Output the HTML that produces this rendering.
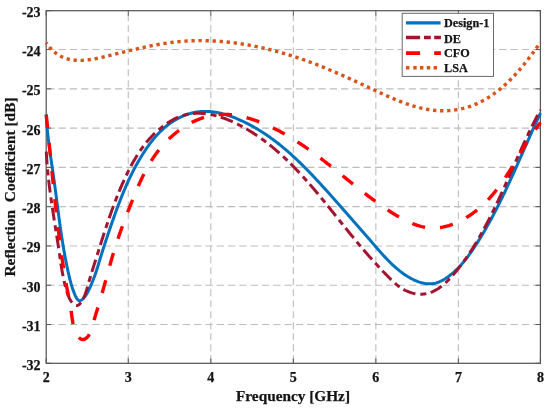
<!DOCTYPE html>
<html><head><meta charset="utf-8"><style>
html,body{margin:0;padding:0;background:#fff;}
svg{display:block;}
text{font-family:"Liberation Serif",serif;font-weight:bold;fill:#141414;stroke:#141414;stroke-width:0.25px;}
</style></head><body>
<svg width="550" height="408" viewBox="0 0 550 408">
<rect width="550" height="408" fill="#fff"/>
<g stroke="#bdbdbd" stroke-width="1.1" fill="none">
<line x1="128.27" y1="363.3" x2="128.27" y2="10.7" stroke-dasharray="7 4" stroke-dashoffset="-1.1"/>
<line x1="210.80" y1="363.3" x2="210.80" y2="10.7" stroke-dasharray="7 4" stroke-dashoffset="-1.1"/>
<line x1="293.33" y1="363.3" x2="293.33" y2="10.7" stroke-dasharray="7 4" stroke-dashoffset="-1.1"/>
<line x1="375.86" y1="363.3" x2="375.86" y2="10.7" stroke-dasharray="7 4" stroke-dashoffset="-1.1"/>
<line x1="458.39" y1="363.3" x2="458.39" y2="10.7" stroke-dasharray="7 4" stroke-dashoffset="-1.1"/>
<line x1="540.4" y1="324.51" x2="46.2" y2="324.51" stroke-dasharray="7.3 4"/>
<line x1="540.4" y1="285.23" x2="46.2" y2="285.23" stroke-dasharray="7.3 4"/>
<line x1="540.4" y1="245.95" x2="46.2" y2="245.95" stroke-dasharray="7.3 4"/>
<line x1="540.4" y1="206.67" x2="46.2" y2="206.67" stroke-dasharray="7.3 4"/>
<line x1="540.4" y1="167.39" x2="46.2" y2="167.39" stroke-dasharray="7.3 4"/>
<line x1="540.4" y1="128.11" x2="46.2" y2="128.11" stroke-dasharray="7.3 4"/>
<line x1="540.4" y1="88.83" x2="46.2" y2="88.83" stroke-dasharray="7.3 4"/>
<line x1="540.4" y1="49.55" x2="46.2" y2="49.55" stroke-dasharray="7.3 4"/>
</g>
<rect x="46.2" y="10.7" width="494.20" height="352.60" fill="none" stroke="#585858" stroke-width="1.25"/>
<path d="M46.20,363.3v-4.9M46.20,10.7v4.9M128.27,363.3v-4.9M128.27,10.7v4.9M210.80,363.3v-4.9M210.80,10.7v4.9M293.33,363.3v-4.9M293.33,10.7v4.9M375.86,363.3v-4.9M375.86,10.7v4.9M458.39,363.3v-4.9M458.39,10.7v4.9M540.40,363.3v-4.9M540.40,10.7v4.9M46.2,363.30h4.9M540.4,363.30h-4.9M46.2,324.51h4.9M540.4,324.51h-4.9M46.2,285.23h4.9M540.4,285.23h-4.9M46.2,245.95h4.9M540.4,245.95h-4.9M46.2,206.67h4.9M540.4,206.67h-4.9M46.2,167.39h4.9M540.4,167.39h-4.9M46.2,128.11h4.9M540.4,128.11h-4.9M46.2,88.83h4.9M540.4,88.83h-4.9M46.2,49.55h4.9M540.4,49.55h-4.9M46.2,10.70h4.9M540.4,10.70h-4.9" stroke="#555" stroke-width="1" fill="none"/>
<g fill="none" stroke-width="3">
<path d="M46.19,114.31 L46.25,115.44 L46.31,116.58 L46.37,117.73 L46.44,118.87 L46.52,120.02 L46.59,121.16 L46.68,122.31 L46.77,123.46 L46.86,124.62 L46.95,125.77 L47.05,126.92 L47.16,128.08 L47.27,129.24 L47.38,130.40 L47.50,131.56 L47.62,132.72 L47.74,133.88 L47.86,135.04 L47.99,136.20 L48.13,137.37 L48.26,138.53 L48.40,139.70 L48.54,140.87 L48.68,142.03 L48.83,143.20 L48.98,144.37 L49.13,145.54 L49.28,146.71 L49.43,147.88 L49.59,149.05 L49.75,150.22 L49.91,151.39 L50.07,152.56 L50.23,153.73 L50.40,154.90 L50.56,156.07 L50.73,157.24 L50.89,158.41 L51.06,159.58 L51.23,160.74 L51.40,161.91 L51.57,163.08 L51.74,164.25 L51.91,165.41 L52.08,166.58 L52.25,167.75 L52.42,168.91 L52.59,170.07 L52.76,171.24 L52.93,172.40 L53.09,173.56 L53.26,174.72 L53.43,175.88 L53.59,177.04 L53.76,178.19 L53.92,179.35 L54.08,180.50 L54.24,181.66 L54.40,182.81 L54.56,183.96 L54.72,185.10 L54.87,186.25 L55.03,187.40 L55.18,188.54 L55.33,189.69 L55.48,190.83 L55.64,191.97 L55.79,193.11 L55.93,194.26 L56.08,195.39 L56.23,196.53 L56.38,197.67 L56.53,198.81 L56.67,199.95 L56.82,201.08 L56.97,202.22 L57.11,203.36 L57.26,204.49 L57.41,205.63 L57.55,206.76 L57.70,207.90 L57.85,209.03 L58.00,210.17 L58.14,211.30 L58.29,212.44 L58.44,213.57 L58.59,214.71 L58.74,215.84 L58.89,216.98 L59.04,218.11 L59.19,219.25 L59.35,220.38 L59.50,221.52 L59.66,222.66 L59.81,223.80 L59.97,224.94 L60.13,226.07 L60.29,227.21 L60.45,228.35 L60.62,229.50 L60.78,230.64 L60.95,231.78 L61.12,232.93 L61.29,234.07 L61.46,235.22 L61.63,236.37 L61.81,237.51 L61.99,238.66 L62.17,239.82 L62.35,240.97 L62.53,242.12 L62.72,243.28 L62.91,244.44 L63.10,245.59 L63.29,246.75 L63.49,247.92 L63.69,249.08 L63.89,250.25 L64.10,251.41 L64.31,252.58 L64.52,253.75 L64.73,254.93 L64.95,256.10 L65.17,257.28 L65.39,258.46 L65.62,259.64 L65.85,260.82 L66.08,262.01 L66.32,263.20 L66.56,264.39 L66.80,265.58 L67.05,266.78 L67.30,267.98 L67.56,269.18 L67.82,270.38 L68.08,271.59 L68.35,272.80 L68.62,274.01 L68.90,275.22 L69.18,276.43 L69.47,277.64 L69.77,278.84 L70.08,280.05 L70.39,281.24 L70.71,282.44 L71.05,283.63 L71.39,284.81 L71.74,285.98 L72.11,287.15 L72.48,288.31 L72.87,289.45 L73.27,290.59 L73.68,291.71 L74.11,292.82 L74.55,293.92 L75.01,295.00 L75.48,296.06 L75.98,297.08 L76.49,298.03 L77.03,298.88 L77.59,299.60 L78.19,300.17 L78.81,300.54 L79.48,300.70 L80.17,300.66 L80.89,300.43 L81.63,300.02 L82.39,299.45 L83.16,298.73 L83.93,297.88 L84.70,296.92 L85.46,295.85 L86.21,294.70 L86.94,293.47 L87.65,292.19 L88.35,290.86 L89.02,289.50 L89.67,288.12 L90.30,286.75 L90.90,285.38 L91.47,284.05 L92.02,282.74 L92.54,281.47 L93.04,280.22 L93.51,279.01 L93.96,277.82 L94.40,276.66 L94.81,275.52 L95.21,274.40 L95.59,273.29 L95.96,272.21 L96.32,271.14 L96.66,270.09 L97.00,269.04 L97.32,268.01 L97.64,266.99 L97.95,265.97 L98.26,264.95 L98.56,263.94 L98.87,262.93 L99.17,261.92 L99.47,260.90 L99.78,259.88 L100.09,258.85 L100.41,257.82 L100.72,256.78 L101.05,255.74 L101.37,254.68 L101.70,253.63 L102.04,252.56 L102.37,251.50 L102.71,250.42 L103.06,249.35 L103.40,248.26 L103.75,247.18 L104.11,246.09 L104.46,244.99 L104.82,243.89 L105.18,242.79 L105.54,241.69 L105.91,240.58 L106.28,239.47 L106.64,238.36 L107.02,237.25 L107.39,236.13 L107.77,235.02 L108.14,233.90 L108.52,232.78 L108.90,231.66 L109.28,230.54 L109.67,229.42 L110.05,228.30 L110.43,227.18 L110.82,226.06 L111.21,224.94 L111.59,223.82 L111.98,222.70 L112.37,221.58 L112.76,220.47 L113.15,219.36 L113.54,218.24 L113.94,217.13 L114.33,216.02 L114.73,214.91 L115.12,213.80 L115.52,212.69 L115.92,211.59 L116.33,210.48 L116.73,209.38 L117.14,208.28 L117.54,207.18 L117.95,206.08 L118.37,204.98 L118.78,203.89 L119.20,202.79 L119.62,201.70 L120.04,200.61 L120.46,199.52 L120.89,198.43 L121.32,197.35 L121.75,196.26 L122.19,195.18 L122.63,194.10 L123.07,193.02 L123.51,191.94 L123.96,190.87 L124.41,189.80 L124.87,188.73 L125.32,187.66 L125.79,186.59 L126.25,185.53 L126.72,184.47 L127.19,183.41 L127.67,182.35 L128.15,181.29 L128.64,180.24 L129.13,179.19 L129.62,178.14 L130.12,177.10 L130.62,176.05 L131.13,175.01 L131.64,173.97 L132.16,172.94 L132.68,171.90 L133.20,170.87 L133.73,169.84 L134.27,168.82 L134.81,167.79 L135.36,166.77 L135.91,165.76 L136.47,164.74 L137.03,163.73 L137.60,162.72 L138.17,161.72 L138.75,160.71 L139.34,159.71 L139.93,158.72 L140.52,157.72 L141.13,156.73 L141.74,155.74 L142.35,154.76 L142.97,153.78 L143.60,152.80 L144.24,151.82 L144.88,150.85 L145.53,149.88 L146.18,148.92 L146.84,147.96 L147.51,147.00 L148.19,146.05 L148.87,145.10 L149.57,144.16 L150.26,143.22 L150.97,142.29 L151.69,141.36 L152.41,140.45 L153.15,139.54 L153.89,138.63 L154.64,137.74 L155.40,136.85 L156.17,135.97 L156.95,135.10 L157.74,134.24 L158.55,133.39 L159.36,132.55 L160.18,131.72 L161.01,130.90 L161.85,130.09 L162.71,129.30 L163.57,128.51 L164.45,127.74 L165.34,126.98 L166.24,126.24 L167.16,125.50 L168.08,124.78 L169.02,124.08 L169.97,123.39 L170.94,122.72 L171.91,122.06 L172.90,121.41 L173.89,120.79 L174.90,120.18 L175.91,119.58 L176.94,119.01 L177.97,118.45 L179.01,117.91 L180.06,117.39 L181.12,116.88 L182.19,116.40 L183.26,115.94 L184.34,115.50 L185.43,115.07 L186.52,114.67 L187.62,114.29 L188.72,113.93 L189.83,113.60 L190.95,113.28 L192.07,112.99 L193.19,112.72 L194.31,112.48 L195.44,112.26 L196.57,112.07 L197.70,111.90 L198.84,111.75 L199.98,111.63 L201.11,111.54 L202.25,111.47 L203.40,111.42 L204.54,111.40 L205.68,111.39 L206.82,111.42 L207.97,111.46 L209.11,111.53 L210.26,111.61 L211.40,111.72 L212.54,111.85 L213.69,112.00 L214.83,112.16 L215.97,112.35 L217.11,112.55 L218.26,112.77 L219.39,113.01 L220.53,113.27 L221.67,113.54 L222.80,113.83 L223.93,114.14 L225.06,114.46 L226.19,114.79 L227.32,115.14 L228.44,115.50 L229.56,115.88 L230.68,116.27 L231.79,116.67 L232.90,117.08 L234.01,117.50 L235.11,117.94 L236.21,118.39 L237.30,118.84 L238.39,119.31 L239.48,119.78 L240.56,120.27 L241.64,120.76 L242.71,121.26 L243.78,121.77 L244.84,122.28 L245.90,122.80 L246.95,123.33 L247.99,123.87 L249.03,124.41 L250.07,124.96 L251.10,125.51 L252.13,126.08 L253.15,126.64 L254.17,127.22 L255.18,127.80 L256.19,128.39 L257.19,128.98 L258.19,129.58 L259.18,130.19 L260.17,130.80 L261.16,131.42 L262.14,132.05 L263.11,132.68 L264.09,133.31 L265.05,133.96 L266.02,134.60 L266.98,135.26 L267.93,135.92 L268.88,136.58 L269.83,137.25 L270.77,137.93 L271.71,138.61 L272.65,139.29 L273.58,139.98 L274.51,140.68 L275.43,141.38 L276.35,142.08 L277.27,142.79 L278.18,143.51 L279.09,144.23 L279.99,144.95 L280.90,145.68 L281.80,146.41 L282.69,147.15 L283.58,147.89 L284.47,148.64 L285.36,149.39 L286.24,150.14 L287.12,150.90 L288.00,151.66 L288.87,152.43 L289.74,153.19 L290.61,153.97 L291.47,154.75 L292.33,155.53 L293.19,156.31 L294.05,157.10 L294.90,157.89 L295.75,158.68 L296.60,159.48 L297.44,160.28 L298.28,161.08 L299.12,161.89 L299.96,162.70 L300.80,163.51 L301.63,164.33 L302.46,165.15 L303.29,165.97 L304.11,166.79 L304.94,167.62 L305.76,168.45 L306.58,169.28 L307.40,170.11 L308.21,170.94 L309.03,171.78 L309.84,172.62 L310.65,173.46 L311.46,174.31 L312.26,175.15 L313.07,176.00 L313.87,176.85 L314.67,177.70 L315.47,178.55 L316.27,179.41 L317.06,180.26 L317.86,181.12 L318.65,181.98 L319.45,182.84 L320.24,183.70 L321.03,184.56 L321.81,185.42 L322.60,186.29 L323.39,187.15 L324.17,188.02 L324.96,188.88 L325.74,189.75 L326.52,190.62 L327.30,191.48 L328.08,192.35 L328.86,193.22 L329.64,194.09 L330.42,194.96 L331.20,195.83 L331.98,196.70 L332.75,197.57 L333.53,198.44 L334.30,199.31 L335.08,200.18 L335.85,201.05 L336.62,201.93 L337.40,202.80 L338.17,203.67 L338.94,204.54 L339.71,205.42 L340.48,206.29 L341.25,207.16 L342.02,208.03 L342.79,208.91 L343.56,209.78 L344.33,210.65 L345.10,211.53 L345.87,212.40 L346.63,213.28 L347.40,214.15 L348.17,215.03 L348.93,215.90 L349.70,216.78 L350.46,217.65 L351.23,218.53 L352.00,219.40 L352.76,220.28 L353.53,221.16 L354.29,222.03 L355.06,222.91 L355.82,223.79 L356.58,224.66 L357.35,225.54 L358.11,226.42 L358.88,227.29 L359.64,228.17 L360.40,229.05 L361.17,229.93 L361.93,230.81 L362.70,231.68 L363.46,232.56 L364.22,233.44 L364.99,234.32 L365.75,235.20 L366.52,236.08 L367.28,236.96 L368.04,237.84 L368.81,238.72 L369.57,239.59 L370.34,240.47 L371.10,241.35 L371.87,242.23 L372.63,243.11 L373.40,244.00 L374.17,244.88 L374.93,245.76 L375.70,246.64 L376.46,247.52 L377.23,248.40 L378.00,249.28 L378.77,250.16 L379.54,251.04 L380.31,251.91 L381.09,252.79 L381.86,253.66 L382.64,254.52 L383.43,255.39 L384.21,256.25 L385.01,257.11 L385.80,257.96 L386.60,258.81 L387.40,259.65 L388.21,260.49 L389.03,261.32 L389.85,262.15 L390.67,262.97 L391.50,263.78 L392.34,264.58 L393.19,265.37 L394.04,266.16 L394.90,266.94 L395.77,267.71 L396.65,268.47 L397.54,269.22 L398.43,269.96 L399.34,270.69 L400.25,271.40 L401.18,272.11 L402.11,272.80 L403.06,273.48 L404.01,274.15 L404.98,274.81 L405.96,275.45 L406.95,276.08 L407.95,276.70 L408.97,277.30 L410.00,277.88 L411.04,278.45 L412.09,279.00 L413.15,279.52 L414.22,280.03 L415.30,280.51 L416.39,280.97 L417.48,281.40 L418.58,281.80 L419.69,282.17 L420.80,282.51 L421.91,282.81 L423.03,283.08 L424.15,283.31 L425.28,283.50 L426.40,283.65 L427.52,283.76 L428.65,283.82 L429.77,283.84 L430.89,283.81 L432.00,283.73 L433.11,283.60 L434.22,283.42 L435.32,283.18 L436.42,282.88 L437.51,282.54 L438.59,282.14 L439.66,281.70 L440.73,281.22 L441.78,280.70 L442.82,280.14 L443.85,279.55 L444.87,278.93 L445.88,278.28 L446.87,277.62 L447.85,276.93 L448.81,276.23 L449.76,275.52 L450.70,274.79 L451.62,274.05 L452.52,273.30 L453.41,272.53 L454.29,271.76 L455.16,270.97 L456.01,270.17 L456.85,269.35 L457.68,268.53 L458.49,267.70 L459.30,266.86 L460.09,266.01 L460.88,265.14 L461.65,264.27 L462.41,263.39 L463.17,262.51 L463.91,261.61 L464.64,260.71 L465.37,259.80 L466.09,258.88 L466.80,257.96 L467.50,257.03 L468.20,256.10 L468.89,255.16 L469.57,254.21 L470.24,253.26 L470.91,252.31 L471.58,251.35 L472.24,250.38 L472.89,249.42 L473.54,248.45 L474.18,247.48 L474.82,246.50 L475.46,245.53 L476.10,244.55 L476.73,243.57 L477.35,242.59 L477.98,241.61 L478.60,240.62 L479.21,239.63 L479.83,238.64 L480.44,237.65 L481.04,236.66 L481.65,235.66 L482.25,234.67 L482.84,233.67 L483.44,232.67 L484.03,231.67 L484.61,230.66 L485.20,229.66 L485.78,228.65 L486.36,227.64 L486.93,226.63 L487.51,225.62 L488.08,224.61 L488.64,223.59 L489.21,222.57 L489.77,221.56 L490.33,220.54 L490.89,219.52 L491.44,218.49 L491.99,217.47 L492.54,216.44 L493.09,215.42 L493.63,214.39 L494.17,213.36 L494.71,212.33 L495.25,211.30 L495.78,210.27 L496.32,209.23 L496.85,208.20 L497.37,207.16 L497.90,206.12 L498.42,205.08 L498.95,204.04 L499.47,203.00 L499.98,201.96 L500.50,200.92 L501.01,199.87 L501.53,198.83 L502.04,197.78 L502.54,196.74 L503.05,195.69 L503.56,194.64 L504.06,193.59 L504.56,192.54 L505.06,191.49 L505.56,190.44 L506.06,189.38 L506.55,188.33 L507.05,187.27 L507.54,186.22 L508.03,185.16 L508.52,184.11 L509.01,183.05 L509.50,181.99 L509.99,180.93 L510.47,179.87 L510.96,178.81 L511.44,177.75 L511.92,176.69 L512.41,175.63 L512.89,174.57 L513.37,173.51 L513.85,172.45 L514.32,171.38 L514.80,170.32 L515.28,169.26 L515.75,168.19 L516.23,167.13 L516.70,166.07 L517.18,165.00 L517.65,163.94 L518.12,162.87 L518.59,161.81 L519.07,160.74 L519.54,159.67 L520.01,158.61 L520.48,157.54 L520.95,156.48 L521.42,155.41 L521.89,154.34 L522.36,153.28 L522.83,152.21 L523.30,151.15 L523.77,150.08 L524.24,149.01 L524.71,147.95 L525.18,146.88 L525.65,145.82 L526.12,144.75 L526.59,143.69 L527.06,142.62 L527.53,141.56 L528.00,140.49 L528.47,139.43 L528.94,138.37 L529.41,137.30 L529.89,136.24 L530.36,135.18 L530.83,134.11 L531.31,133.05 L531.78,131.99 L532.26,130.93 L532.73,129.87 L533.21,128.81 L533.69,127.75 L534.17,126.69 L534.65,125.63 L535.13,124.58 L535.61,123.52 L536.09,122.46 L536.57,121.41 L537.06,120.35 L537.54,119.30 L538.03,118.25 L538.52,117.19 L539.00,116.14 L539.49,115.09 L539.99,114.04 L540.48,112.99" stroke="#0072BD"/>
<path d="M46.19,149.51 L46.23,150.64 L46.28,151.78 L46.34,152.91 L46.40,154.05 L46.46,155.18 L46.53,156.32 L46.60,157.46 L46.67,158.60 L46.75,159.74 L46.83,160.89 L46.92,162.03 L47.01,163.18 L47.10,164.32 L47.19,165.47 L47.29,166.62 L47.39,167.76 L47.50,168.91 L47.60,170.07 L47.71,171.22 L47.83,172.37 L47.94,173.52 L48.06,174.67 L48.18,175.83 L48.30,176.98 L48.43,178.14 L48.56,179.29 L48.69,180.45 L48.82,181.61 L48.96,182.76 L49.10,183.92 L49.24,185.08 L49.38,186.23 L49.53,187.39 L49.67,188.55 L49.82,189.71 L49.97,190.87 L50.13,192.02 L50.28,193.18 L50.44,194.34 L50.59,195.50 L50.75,196.65 L50.91,197.81 L51.08,198.97 L51.24,200.13 L51.41,201.28 L51.57,202.44 L51.74,203.60 L51.91,204.75 L52.08,205.91 L52.25,207.06 L52.42,208.22 L52.59,209.37 L52.77,210.52 L52.94,211.67 L53.12,212.83 L53.29,213.98 L53.47,215.13 L53.65,216.28 L53.83,217.42 L54.00,218.57 L54.18,219.72 L54.36,220.86 L54.54,222.01 L54.72,223.15 L54.90,224.29 L55.08,225.43 L55.26,226.57 L55.44,227.71 L55.62,228.85 L55.80,229.99 L55.98,231.12 L56.16,232.25 L56.33,233.39 L56.51,234.52 L56.69,235.64 L56.87,236.77 L57.04,237.90 L57.22,239.02 L57.40,240.14 L57.57,241.26 L57.74,242.38 L57.92,243.50 L58.09,244.61 L58.26,245.73 L58.43,246.84 L58.60,247.95 L58.76,249.05 L58.93,250.16 L59.09,251.26 L59.26,252.36 L59.42,253.46 L59.58,254.56 L59.74,255.65 L59.90,256.75 L60.05,257.84 L60.21,258.93 L60.37,260.02 L60.53,261.11 L60.69,262.20 L60.85,263.30 L61.02,264.40 L61.19,265.50 L61.36,266.60 L61.54,267.71 L61.72,268.82 L61.91,269.94 L62.11,271.07 L62.31,272.20 L62.52,273.34 L62.73,274.49 L62.96,275.65 L63.19,276.81 L63.44,277.99 L63.69,279.18 L63.96,280.38 L64.23,281.59 L64.52,282.81 L64.82,284.04 L65.14,285.29 L65.46,286.55 L65.81,287.83 L66.16,289.12 L66.53,290.42 L66.93,291.71 L67.34,292.99 L67.77,294.25 L68.22,295.49 L68.70,296.69 L69.21,297.86 L69.74,298.97 L70.31,300.03 L70.90,301.03 L71.52,301.95 L72.18,302.79 L72.86,303.54 L73.57,304.19 L74.30,304.72 L75.04,305.11 L75.79,305.37 L76.56,305.47 L77.32,305.41 L78.09,305.16 L78.86,304.73 L79.61,304.10 L80.36,303.30 L81.09,302.36 L81.80,301.30 L82.48,300.14 L83.13,298.92 L83.74,297.65 L84.31,296.35 L84.84,295.06 L85.33,293.76 L85.79,292.46 L86.22,291.16 L86.63,289.87 L87.01,288.58 L87.38,287.31 L87.74,286.05 L88.08,284.81 L88.43,283.58 L88.77,282.38 L89.11,281.19 L89.45,280.02 L89.79,278.86 L90.13,277.72 L90.46,276.59 L90.80,275.48 L91.13,274.38 L91.47,273.29 L91.80,272.21 L92.13,271.14 L92.46,270.07 L92.79,269.01 L93.12,267.96 L93.45,266.91 L93.77,265.87 L94.10,264.83 L94.43,263.79 L94.76,262.75 L95.09,261.71 L95.42,260.67 L95.75,259.63 L96.08,258.58 L96.41,257.53 L96.74,256.48 L97.07,255.42 L97.41,254.36 L97.74,253.30 L98.08,252.24 L98.41,251.17 L98.75,250.10 L99.08,249.03 L99.42,247.95 L99.76,246.88 L100.10,245.80 L100.44,244.72 L100.79,243.63 L101.13,242.55 L101.47,241.46 L101.82,240.37 L102.17,239.28 L102.52,238.19 L102.87,237.09 L103.22,236.00 L103.57,234.90 L103.92,233.80 L104.28,232.70 L104.64,231.60 L105.00,230.50 L105.36,229.40 L105.72,228.30 L106.09,227.19 L106.45,226.09 L106.82,224.98 L107.19,223.88 L107.56,222.77 L107.94,221.66 L108.31,220.56 L108.69,219.45 L109.07,218.34 L109.45,217.24 L109.84,216.13 L110.22,215.02 L110.61,213.92 L111.00,212.81 L111.39,211.70 L111.79,210.60 L112.19,209.50 L112.59,208.39 L112.99,207.29 L113.40,206.19 L113.81,205.09 L114.22,203.99 L114.63,202.89 L115.05,201.79 L115.47,200.69 L115.89,199.60 L116.31,198.50 L116.74,197.41 L117.17,196.32 L117.60,195.23 L118.04,194.15 L118.48,193.06 L118.92,191.98 L119.37,190.90 L119.82,189.82 L120.27,188.74 L120.72,187.67 L121.18,186.60 L121.64,185.53 L122.11,184.46 L122.58,183.40 L123.05,182.34 L123.53,181.28 L124.01,180.23 L124.49,179.18 L124.98,178.13 L125.47,177.08 L125.96,176.04 L126.46,175.00 L126.96,173.97 L127.46,172.93 L127.97,171.91 L128.49,170.88 L129.00,169.86 L129.52,168.85 L130.05,167.83 L130.58,166.82 L131.11,165.82 L131.65,164.82 L132.19,163.82 L132.74,162.83 L133.29,161.85 L133.85,160.86 L134.41,159.89 L134.98,158.91 L135.56,157.94 L136.14,156.98 L136.73,156.02 L137.32,155.07 L137.92,154.12 L138.53,153.18 L139.15,152.24 L139.77,151.31 L140.40,150.38 L141.04,149.46 L141.69,148.54 L142.35,147.63 L143.02,146.72 L143.69,145.82 L144.37,144.93 L145.07,144.04 L145.77,143.16 L146.48,142.28 L147.21,141.41 L147.94,140.55 L148.69,139.69 L149.44,138.84 L150.21,137.99 L150.99,137.15 L151.78,136.32 L152.58,135.49 L153.39,134.67 L154.22,133.86 L155.06,133.06 L155.91,132.26 L156.77,131.47 L157.65,130.68 L158.54,129.90 L159.45,129.13 L160.37,128.37 L161.30,127.61 L162.25,126.86 L163.21,126.12 L164.18,125.40 L165.17,124.68 L166.16,123.97 L167.17,123.28 L168.19,122.61 L169.21,121.95 L170.25,121.31 L171.29,120.69 L172.34,120.09 L173.40,119.51 L174.47,118.95 L175.54,118.41 L176.61,117.90 L177.70,117.42 L178.78,116.97 L179.87,116.54 L180.96,116.14 L182.05,115.77 L183.15,115.42 L184.24,115.11 L185.34,114.82 L186.45,114.55 L187.55,114.31 L188.66,114.10 L189.77,113.91 L190.88,113.75 L191.99,113.61 L193.11,113.50 L194.22,113.40 L195.34,113.34 L196.45,113.29 L197.57,113.27 L198.69,113.26 L199.81,113.28 L200.93,113.32 L202.05,113.39 L203.17,113.47 L204.29,113.57 L205.41,113.69 L206.53,113.83 L207.64,113.99 L208.76,114.17 L209.88,114.36 L211.00,114.58 L212.11,114.81 L213.23,115.05 L214.34,115.32 L215.45,115.60 L216.56,115.89 L217.67,116.20 L218.77,116.53 L219.88,116.87 L220.98,117.22 L222.08,117.59 L223.17,117.97 L224.27,118.36 L225.36,118.77 L226.44,119.19 L227.53,119.62 L228.61,120.06 L229.69,120.51 L230.76,120.97 L231.83,121.44 L232.90,121.92 L233.96,122.42 L235.02,122.92 L236.08,123.43 L237.13,123.94 L238.17,124.47 L239.21,125.00 L240.25,125.54 L241.28,126.08 L242.30,126.64 L243.33,127.19 L244.34,127.76 L245.35,128.33 L246.36,128.91 L247.36,129.49 L248.36,130.08 L249.35,130.68 L250.34,131.28 L251.32,131.89 L252.30,132.50 L253.27,133.12 L254.24,133.75 L255.20,134.38 L256.16,135.02 L257.12,135.66 L258.07,136.31 L259.02,136.96 L259.96,137.62 L260.90,138.29 L261.83,138.96 L262.76,139.63 L263.69,140.31 L264.61,141.00 L265.53,141.69 L266.45,142.38 L267.36,143.09 L268.26,143.79 L269.16,144.50 L270.06,145.22 L270.96,145.94 L271.85,146.66 L272.74,147.39 L273.62,148.12 L274.50,148.86 L275.38,149.61 L276.25,150.35 L277.12,151.10 L277.99,151.86 L278.85,152.62 L279.71,153.38 L280.57,154.15 L281.42,154.92 L282.27,155.70 L283.11,156.48 L283.96,157.26 L284.80,158.05 L285.64,158.84 L286.47,159.64 L287.30,160.43 L288.13,161.24 L288.95,162.04 L289.78,162.85 L290.60,163.66 L291.41,164.48 L292.23,165.30 L293.04,166.12 L293.85,166.94 L294.65,167.77 L295.45,168.60 L296.26,169.44 L297.05,170.27 L297.85,171.11 L298.64,171.95 L299.43,172.80 L300.22,173.65 L301.01,174.50 L301.79,175.35 L302.58,176.21 L303.35,177.06 L304.13,177.92 L304.91,178.79 L305.68,179.65 L306.45,180.52 L307.22,181.38 L307.99,182.26 L308.75,183.13 L309.52,184.00 L310.28,184.88 L311.04,185.76 L311.80,186.64 L312.56,187.52 L313.31,188.40 L314.06,189.29 L314.82,190.17 L315.57,191.06 L316.31,191.95 L317.06,192.84 L317.81,193.73 L318.55,194.63 L319.30,195.52 L320.04,196.42 L320.78,197.31 L321.52,198.21 L322.26,199.11 L322.99,200.01 L323.73,200.91 L324.47,201.81 L325.20,202.71 L325.93,203.61 L326.66,204.51 L327.40,205.42 L328.13,206.32 L328.86,207.22 L329.59,208.13 L330.31,209.03 L331.04,209.94 L331.77,210.84 L332.49,211.75 L333.22,212.65 L333.95,213.56 L334.67,214.46 L335.40,215.37 L336.12,216.27 L336.84,217.17 L337.57,218.08 L338.29,218.98 L339.01,219.88 L339.73,220.78 L340.46,221.69 L341.18,222.59 L341.90,223.49 L342.62,224.39 L343.35,225.29 L344.07,226.18 L344.79,227.08 L345.51,227.98 L346.24,228.87 L346.96,229.77 L347.69,230.66 L348.41,231.56 L349.13,232.45 L349.86,233.34 L350.58,234.23 L351.31,235.12 L352.04,236.01 L352.77,236.90 L353.49,237.79 L354.22,238.67 L354.95,239.56 L355.68,240.44 L356.42,241.33 L357.15,242.21 L357.88,243.09 L358.62,243.97 L359.35,244.85 L360.09,245.72 L360.83,246.60 L361.57,247.48 L362.31,248.35 L363.05,249.22 L363.80,250.09 L364.54,250.96 L365.29,251.83 L366.04,252.70 L366.79,253.56 L367.54,254.43 L368.30,255.29 L369.05,256.15 L369.81,257.02 L370.57,257.87 L371.33,258.73 L372.10,259.59 L372.86,260.44 L373.63,261.30 L374.40,262.15 L375.17,263.00 L375.94,263.85 L376.72,264.69 L377.50,265.54 L378.28,266.38 L379.07,267.22 L379.85,268.06 L380.64,268.90 L381.43,269.74 L382.23,270.57 L383.02,271.41 L383.82,272.24 L384.63,273.07 L385.43,273.90 L386.24,274.72 L387.05,275.55 L387.87,276.37 L388.68,277.19 L389.50,278.01 L390.33,278.82 L391.15,279.64 L391.99,280.44 L392.83,281.25 L393.68,282.04 L394.53,282.82 L395.40,283.59 L396.28,284.35 L397.18,285.09 L398.09,285.81 L399.02,286.52 L399.97,287.20 L400.93,287.86 L401.92,288.49 L402.93,289.10 L403.96,289.68 L405.02,290.23 L406.10,290.75 L407.20,291.23 L408.31,291.69 L409.44,292.10 L410.58,292.49 L411.73,292.83 L412.89,293.14 L414.05,293.41 L415.21,293.65 L416.38,293.84 L417.54,293.99 L418.70,294.09 L419.84,294.16 L420.98,294.18 L422.11,294.15 L423.22,294.08 L424.33,293.96 L425.42,293.81 L426.49,293.61 L427.56,293.37 L428.61,293.09 L429.65,292.77 L430.68,292.42 L431.70,292.03 L432.70,291.60 L433.70,291.14 L434.68,290.65 L435.66,290.13 L436.62,289.58 L437.57,289.00 L438.51,288.39 L439.44,287.75 L440.36,287.09 L441.28,286.41 L442.18,285.70 L443.07,284.97 L443.95,284.22 L444.82,283.45 L445.69,282.66 L446.54,281.85 L447.39,281.03 L448.22,280.19 L449.05,279.34 L449.87,278.48 L450.68,277.60 L451.49,276.71 L452.28,275.82 L453.07,274.91 L453.85,274.00 L454.63,273.09 L455.39,272.17 L456.15,271.24 L456.90,270.31 L457.65,269.39 L458.39,268.46 L459.12,267.52 L459.84,266.59 L460.56,265.65 L461.27,264.72 L461.98,263.78 L462.68,262.84 L463.37,261.90 L464.06,260.95 L464.74,260.01 L465.42,259.06 L466.09,258.11 L466.75,257.16 L467.41,256.21 L468.06,255.26 L468.71,254.30 L469.36,253.34 L469.99,252.38 L470.63,251.42 L471.26,250.46 L471.88,249.49 L472.50,248.53 L473.11,247.56 L473.72,246.59 L474.33,245.62 L474.93,244.65 L475.53,243.67 L476.12,242.69 L476.71,241.71 L477.29,240.73 L477.87,239.75 L478.45,238.77 L479.02,237.78 L479.59,236.79 L480.16,235.80 L480.72,234.81 L481.28,233.81 L481.84,232.82 L482.39,231.82 L482.94,230.82 L483.49,229.82 L484.04,228.81 L484.58,227.81 L485.12,226.80 L485.66,225.79 L486.19,224.78 L486.73,223.77 L487.26,222.75 L487.79,221.73 L488.31,220.72 L488.84,219.69 L489.36,218.67 L489.88,217.65 L490.39,216.62 L490.91,215.60 L491.42,214.57 L491.93,213.54 L492.44,212.51 L492.95,211.47 L493.46,210.44 L493.96,209.40 L494.46,208.36 L494.97,207.33 L495.46,206.29 L495.96,205.24 L496.46,204.20 L496.95,203.16 L497.45,202.11 L497.94,201.07 L498.43,200.02 L498.92,198.97 L499.41,197.92 L499.89,196.87 L500.38,195.82 L500.86,194.77 L501.34,193.72 L501.83,192.67 L502.31,191.61 L502.79,190.56 L503.27,189.50 L503.75,188.45 L504.22,187.39 L504.70,186.33 L505.18,185.28 L505.65,184.22 L506.13,183.16 L506.60,182.10 L507.07,181.04 L507.55,179.98 L508.02,178.92 L508.49,177.86 L508.96,176.80 L509.43,175.74 L509.90,174.67 L510.38,173.61 L510.85,172.55 L511.32,171.49 L511.79,170.43 L512.26,169.37 L512.73,168.30 L513.20,167.24 L513.67,166.18 L514.14,165.12 L514.61,164.06 L515.08,163.00 L515.55,161.94 L516.02,160.87 L516.49,159.81 L516.96,158.75 L517.44,157.69 L517.91,156.64 L518.38,155.58 L518.86,154.52 L519.33,153.46 L519.80,152.40 L520.28,151.35 L520.76,150.29 L521.23,149.24 L521.71,148.18 L522.19,147.13 L522.67,146.07 L523.15,145.02 L523.63,143.97 L524.12,142.92 L524.60,141.87 L525.08,140.82 L525.57,139.77 L526.06,138.73 L526.54,137.68 L527.03,136.64 L527.53,135.59 L528.02,134.55 L528.51,133.51 L529.01,132.47 L529.50,131.43 L530.00,130.40 L530.50,129.36 L531.00,128.33 L531.51,127.29 L532.01,126.26 L532.52,125.23 L533.03,124.20 L533.54,123.18 L534.05,122.15 L534.57,121.13 L535.08,120.11 L535.60,119.09 L536.12,118.07 L536.64,117.05 L537.17,116.04 L537.70,115.02 L538.22,114.01 L538.76,113.00 L539.29,112.00 L539.83,110.99 L540.37,109.99" stroke="#A2142F" stroke-dasharray="12.8 4.96 6 4.456" stroke-dashoffset="-2.16"/>
<path d="M46.19,114.29 L46.31,115.44 L46.44,116.59 L46.56,117.74 L46.68,118.89 L46.80,120.03 L46.91,121.18 L47.03,122.32 L47.15,123.47 L47.27,124.61 L47.39,125.76 L47.50,126.90 L47.62,128.04 L47.74,129.18 L47.85,130.33 L47.97,131.47 L48.09,132.61 L48.20,133.75 L48.32,134.89 L48.43,136.03 L48.54,137.16 L48.66,138.30 L48.77,139.44 L48.89,140.58 L49.00,141.72 L49.11,142.85 L49.23,143.99 L49.34,145.12 L49.45,146.26 L49.56,147.40 L49.68,148.53 L49.79,149.67 L49.90,150.80 L50.01,151.93 L50.13,153.07 L50.24,154.20 L50.35,155.33 L50.46,156.47 L50.57,157.60 L50.69,158.73 L50.80,159.87 L50.91,161.00 L51.02,162.13 L51.13,163.26 L51.25,164.39 L51.36,165.52 L51.47,166.66 L51.58,167.79 L51.70,168.92 L51.81,170.05 L51.92,171.18 L52.04,172.31 L52.15,173.44 L52.26,174.57 L52.38,175.70 L52.49,176.83 L52.60,177.96 L52.72,179.09 L52.83,180.22 L52.95,181.35 L53.06,182.48 L53.18,183.61 L53.29,184.74 L53.41,185.87 L53.53,187.00 L53.64,188.13 L53.76,189.27 L53.88,190.40 L54.00,191.53 L54.12,192.66 L54.23,193.79 L54.35,194.92 L54.47,196.05 L54.59,197.18 L54.71,198.31 L54.84,199.44 L54.96,200.58 L55.08,201.71 L55.20,202.84 L55.33,203.97 L55.45,205.10 L55.57,206.24 L55.70,207.37 L55.82,208.50 L55.95,209.64 L56.08,210.77 L56.21,211.90 L56.33,213.04 L56.46,214.17 L56.59,215.31 L56.72,216.44 L56.85,217.58 L56.99,218.71 L57.12,219.85 L57.25,220.98 L57.38,222.12 L57.52,223.26 L57.65,224.40 L57.79,225.53 L57.93,226.67 L58.07,227.81 L58.21,228.95 L58.34,230.09 L58.49,231.23 L58.63,232.37 L58.77,233.51 L58.91,234.65 L59.06,235.79 L59.20,236.94 L59.35,238.08 L59.50,239.22 L59.64,240.37 L59.79,241.51 L59.94,242.66 L60.09,243.80 L60.25,244.95 L60.40,246.10 L60.55,247.24 L60.71,248.39 L60.86,249.54 L61.02,250.69 L61.18,251.84 L61.34,252.99 L61.50,254.14 L61.66,255.30 L61.83,256.45 L61.99,257.60 L62.16,258.75 L62.32,259.91 L62.49,261.06 L62.66,262.21 L62.83,263.36 L63.00,264.51 L63.18,265.66 L63.35,266.81 L63.53,267.95 L63.70,269.10 L63.88,270.24 L64.06,271.37 L64.24,272.51 L64.42,273.64 L64.61,274.77 L64.79,275.89 L64.98,277.01 L65.17,278.13 L65.36,279.24 L65.55,280.34 L65.74,281.44 L65.93,282.54 L66.13,283.63 L66.32,284.71 L66.52,285.79 L66.72,286.86 L66.92,287.93 L67.12,288.99 L67.33,290.04 L67.53,291.08 L67.74,292.12 L67.95,293.15 L68.16,294.18 L68.37,295.20 L68.58,296.23 L68.78,297.27 L68.99,298.30 L69.20,299.35 L69.40,300.41 L69.61,301.48 L69.81,302.56 L70.01,303.66 L70.21,304.78 L70.40,305.92 L70.59,307.09 L70.77,308.28 L70.95,309.49 L71.13,310.74 L71.30,312.01 L71.48,313.31 L71.65,314.63 L71.82,315.97 L72.00,317.31 L72.19,318.66 L72.39,320.00 L72.60,321.34 L72.83,322.68 L73.07,324.00 L73.33,325.29 L73.62,326.57 L73.93,327.82 L74.26,329.03 L74.62,330.20 L75.02,331.33 L75.44,332.42 L75.91,333.45 L76.41,334.42 L76.95,335.33 L77.53,336.17 L78.16,336.94 L78.83,337.63 L79.55,338.24 L80.31,338.75 L81.10,339.14 L81.91,339.40 L82.73,339.52 L83.57,339.48 L84.40,339.27 L85.23,338.88 L86.05,338.34 L86.84,337.65 L87.59,336.84 L88.30,335.93 L88.96,334.93 L89.57,333.85 L90.14,332.70 L90.67,331.49 L91.16,330.24 L91.62,328.95 L92.05,327.63 L92.46,326.30 L92.85,324.96 L93.22,323.63 L93.57,322.31 L93.91,321.02 L94.25,319.76 L94.58,318.55 L94.91,317.38 L95.24,316.24 L95.57,315.13 L95.89,314.06 L96.21,313.00 L96.53,311.96 L96.84,310.93 L97.16,309.90 L97.48,308.88 L97.79,307.86 L98.11,306.83 L98.43,305.79 L98.74,304.74 L99.06,303.69 L99.37,302.63 L99.69,301.56 L100.01,300.48 L100.32,299.40 L100.64,298.32 L100.95,297.23 L101.27,296.13 L101.58,295.03 L101.90,293.93 L102.21,292.82 L102.52,291.72 L102.83,290.60 L103.15,289.49 L103.46,288.38 L103.77,287.27 L104.08,286.15 L104.39,285.04 L104.70,283.93 L105.00,282.81 L105.31,281.70 L105.62,280.59 L105.92,279.48 L106.23,278.37 L106.53,277.27 L106.84,276.16 L107.14,275.05 L107.45,273.95 L107.75,272.84 L108.06,271.74 L108.37,270.63 L108.67,269.53 L108.98,268.43 L109.29,267.33 L109.60,266.23 L109.91,265.13 L110.22,264.03 L110.53,262.93 L110.85,261.84 L111.16,260.74 L111.48,259.65 L111.79,258.55 L112.11,257.46 L112.44,256.37 L112.76,255.28 L113.09,254.18 L113.41,253.09 L113.74,252.00 L114.07,250.92 L114.41,249.83 L114.75,248.74 L115.09,247.66 L115.43,246.57 L115.77,245.49 L116.12,244.40 L116.47,243.32 L116.83,242.24 L117.18,241.16 L117.54,240.08 L117.91,239.00 L118.27,237.92 L118.64,236.84 L119.01,235.76 L119.38,234.69 L119.75,233.61 L120.13,232.54 L120.51,231.46 L120.89,230.39 L121.27,229.31 L121.66,228.24 L122.04,227.17 L122.43,226.10 L122.83,225.03 L123.22,223.96 L123.62,222.89 L124.01,221.82 L124.41,220.75 L124.81,219.68 L125.22,218.62 L125.62,217.55 L126.03,216.48 L126.44,215.42 L126.84,214.35 L127.26,213.29 L127.67,212.22 L128.08,211.16 L128.50,210.09 L128.91,209.03 L129.33,207.97 L129.75,206.90 L130.17,205.84 L130.59,204.78 L131.02,203.72 L131.44,202.66 L131.86,201.60 L132.29,200.53 L132.72,199.47 L133.15,198.41 L133.57,197.35 L134.00,196.30 L134.44,195.24 L134.87,194.18 L135.31,193.12 L135.74,192.07 L136.18,191.01 L136.63,189.96 L137.07,188.91 L137.52,187.86 L137.97,186.81 L138.43,185.76 L138.89,184.72 L139.35,183.67 L139.82,182.63 L140.29,181.59 L140.76,180.56 L141.24,179.52 L141.73,178.49 L142.21,177.46 L142.71,176.44 L143.21,175.41 L143.71,174.39 L144.22,173.38 L144.74,172.36 L145.26,171.35 L145.79,170.35 L146.33,169.34 L146.87,168.34 L147.42,167.35 L147.97,166.36 L148.54,165.37 L149.11,164.39 L149.69,163.41 L150.27,162.43 L150.87,161.46 L151.47,160.50 L152.08,159.54 L152.70,158.58 L153.33,157.63 L153.97,156.69 L154.61,155.75 L155.27,154.81 L155.94,153.88 L156.61,152.96 L157.30,152.04 L157.99,151.13 L158.70,150.22 L159.41,149.32 L160.14,148.43 L160.88,147.54 L161.62,146.66 L162.38,145.79 L163.15,144.93 L163.92,144.07 L164.71,143.22 L165.50,142.38 L166.31,141.54 L167.12,140.72 L167.94,139.90 L168.77,139.09 L169.61,138.29 L170.46,137.50 L171.32,136.72 L172.18,135.95 L173.06,135.18 L173.94,134.43 L174.83,133.69 L175.73,132.96 L176.63,132.24 L177.54,131.53 L178.46,130.83 L179.39,130.15 L180.32,129.47 L181.26,128.81 L182.21,128.16 L183.17,127.52 L184.13,126.89 L185.10,126.27 L186.07,125.67 L187.05,125.09 L188.04,124.51 L189.03,123.95 L190.03,123.40 L191.04,122.87 L192.05,122.35 L193.06,121.84 L194.08,121.35 L195.11,120.88 L196.14,120.41 L197.18,119.97 L198.22,119.54 L199.26,119.12 L200.31,118.73 L201.37,118.34 L202.43,117.98 L203.49,117.63 L204.56,117.29 L205.63,116.98 L206.71,116.68 L207.78,116.40 L208.87,116.13 L209.95,115.89 L211.04,115.66 L212.13,115.45 L213.23,115.26 L214.33,115.09 L215.43,114.93 L216.53,114.80 L217.64,114.68 L218.75,114.59 L219.86,114.51 L220.97,114.45 L222.09,114.42 L223.20,114.40 L224.32,114.39 L225.44,114.41 L226.56,114.45 L227.69,114.50 L228.81,114.57 L229.94,114.65 L231.06,114.75 L232.19,114.87 L233.31,115.00 L234.44,115.15 L235.57,115.32 L236.70,115.50 L237.82,115.69 L238.95,115.90 L240.08,116.13 L241.20,116.36 L242.33,116.61 L243.46,116.88 L244.58,117.15 L245.70,117.44 L246.82,117.74 L247.94,118.06 L249.06,118.38 L250.18,118.72 L251.30,119.07 L252.41,119.43 L253.52,119.79 L254.63,120.17 L255.74,120.56 L256.84,120.96 L257.94,121.37 L259.04,121.79 L260.14,122.22 L261.23,122.65 L262.32,123.09 L263.41,123.54 L264.49,124.00 L265.57,124.47 L266.64,124.94 L267.72,125.42 L268.78,125.91 L269.85,126.40 L270.90,126.90 L271.96,127.40 L273.01,127.91 L274.05,128.43 L275.09,128.95 L276.13,129.47 L277.16,130.00 L278.18,130.53 L279.21,131.07 L280.22,131.61 L281.24,132.16 L282.25,132.71 L283.25,133.27 L284.25,133.83 L285.25,134.40 L286.24,134.96 L287.23,135.54 L288.22,136.12 L289.20,136.70 L290.18,137.28 L291.15,137.87 L292.12,138.47 L293.09,139.07 L294.05,139.67 L295.01,140.27 L295.97,140.88 L296.92,141.49 L297.87,142.11 L298.82,142.73 L299.77,143.35 L300.71,143.98 L301.65,144.61 L302.59,145.24 L303.52,145.88 L304.45,146.52 L305.38,147.16 L306.30,147.80 L307.23,148.45 L308.15,149.10 L309.07,149.75 L309.98,150.41 L310.90,151.07 L311.81,151.73 L312.72,152.39 L313.63,153.06 L314.54,153.73 L315.44,154.40 L316.34,155.07 L317.25,155.75 L318.14,156.43 L319.04,157.11 L319.94,157.79 L320.83,158.47 L321.73,159.16 L322.62,159.84 L323.51,160.53 L324.40,161.22 L325.29,161.92 L326.18,162.61 L327.07,163.31 L327.95,164.00 L328.84,164.70 L329.72,165.40 L330.60,166.10 L331.49,166.80 L332.37,167.51 L333.25,168.21 L334.13,168.92 L335.02,169.62 L335.90,170.33 L336.78,171.04 L337.66,171.75 L338.54,172.46 L339.42,173.17 L340.30,173.88 L341.18,174.59 L342.06,175.30 L342.94,176.01 L343.83,176.72 L344.71,177.43 L345.59,178.15 L346.47,178.86 L347.36,179.57 L348.24,180.28 L349.13,181.00 L350.01,181.71 L350.90,182.42 L351.79,183.13 L352.68,183.84 L353.57,184.56 L354.46,185.27 L355.35,185.98 L356.24,186.69 L357.14,187.40 L358.04,188.10 L358.93,188.81 L359.83,189.52 L360.73,190.22 L361.64,190.93 L362.54,191.63 L363.45,192.34 L364.36,193.04 L365.27,193.74 L366.18,194.44 L367.09,195.13 L368.01,195.83 L368.93,196.53 L369.85,197.22 L370.77,197.91 L371.70,198.60 L372.63,199.29 L373.56,199.98 L374.49,200.66 L375.43,201.34 L376.37,202.02 L377.31,202.70 L378.25,203.38 L379.20,204.05 L380.15,204.73 L381.10,205.40 L382.06,206.07 L383.02,206.73 L383.98,207.39 L384.95,208.05 L385.92,208.71 L386.90,209.37 L387.87,210.02 L388.86,210.67 L389.84,211.31 L390.83,211.96 L391.82,212.59 L392.81,213.22 L393.81,213.85 L394.82,214.47 L395.82,215.08 L396.83,215.69 L397.84,216.29 L398.85,216.88 L399.87,217.46 L400.89,218.03 L401.92,218.59 L402.94,219.14 L403.97,219.68 L405.00,220.20 L406.04,220.72 L407.08,221.22 L408.12,221.71 L409.16,222.18 L410.21,222.64 L411.26,223.09 L412.31,223.52 L413.36,223.93 L414.42,224.33 L415.47,224.71 L416.53,225.07 L417.60,225.42 L418.66,225.74 L419.73,226.05 L420.80,226.33 L421.87,226.60 L422.94,226.84 L424.02,227.06 L425.09,227.26 L426.17,227.44 L427.25,227.60 L428.34,227.73 L429.42,227.84 L430.51,227.92 L431.59,227.97 L432.68,228.00 L433.77,228.01 L434.87,227.99 L435.96,227.94 L437.05,227.87 L438.15,227.77 L439.24,227.65 L440.34,227.50 L441.43,227.33 L442.52,227.14 L443.62,226.92 L444.71,226.68 L445.80,226.42 L446.89,226.14 L447.97,225.84 L449.05,225.52 L450.13,225.17 L451.21,224.81 L452.29,224.43 L453.36,224.03 L454.42,223.61 L455.49,223.17 L456.55,222.71 L457.60,222.24 L458.65,221.75 L459.69,221.25 L460.73,220.73 L461.76,220.19 L462.79,219.64 L463.81,219.07 L464.82,218.49 L465.83,217.89 L466.83,217.29 L467.82,216.67 L468.81,216.03 L469.78,215.39 L470.75,214.73 L471.71,214.06 L472.66,213.38 L473.60,212.69 L474.53,211.99 L475.45,211.29 L476.37,210.57 L477.27,209.84 L478.16,209.11 L479.04,208.36 L479.91,207.61 L480.77,206.85 L481.62,206.09 L482.47,205.31 L483.30,204.53 L484.12,203.74 L484.94,202.95 L485.74,202.14 L486.54,201.33 L487.33,200.51 L488.11,199.69 L488.89,198.86 L489.65,198.02 L490.41,197.18 L491.16,196.33 L491.90,195.47 L492.64,194.61 L493.37,193.74 L494.09,192.87 L494.80,191.99 L495.51,191.11 L496.21,190.22 L496.91,189.32 L497.60,188.42 L498.28,187.52 L498.96,186.61 L499.63,185.70 L500.30,184.78 L500.96,183.86 L501.62,182.93 L502.27,182.00 L502.92,181.07 L503.56,180.13 L504.20,179.19 L504.84,178.25 L505.47,177.30 L506.10,176.35 L506.72,175.40 L507.34,174.44 L507.96,173.48 L508.57,172.52 L509.18,171.56 L509.79,170.59 L510.40,169.63 L511.00,168.66 L511.60,167.68 L512.20,166.71 L512.79,165.74 L513.39,164.76 L513.98,163.78 L514.57,162.80 L515.17,161.82 L515.75,160.84 L516.34,159.86 L516.93,158.88 L517.52,157.90 L518.11,156.91 L518.69,155.93 L519.28,154.95 L519.87,153.97 L520.45,152.98 L521.04,152.00 L521.63,151.02 L522.22,150.04 L522.81,149.06 L523.40,148.08 L523.99,147.10 L524.59,146.12 L525.18,145.15 L525.78,144.18 L526.38,143.20 L526.98,142.23 L527.58,141.26 L528.19,140.30 L528.80,139.33 L529.41,138.37 L530.03,137.41 L530.65,136.46 L531.27,135.50 L531.89,134.55 L532.52,133.60 L533.15,132.66 L533.79,131.72 L534.43,130.78 L535.08,129.84 L535.73,128.91 L536.38,127.99 L537.04,127.06 L537.70,126.15 L538.37,125.23 L539.05,124.32 L539.73,123.42 L540.42,122.52" stroke="#FF0000" stroke-dasharray="13.3 14.96" stroke-dashoffset="-0.45" stroke-width="3.4"/>
<path d="M46.15,42.58 L46.61,43.27 L47.08,43.94 L47.55,44.59 L48.03,45.23 L48.51,45.85 L49.00,46.46 L49.48,47.05 L49.98,47.63 L50.47,48.19 L50.98,48.73 L51.48,49.27 L51.99,49.78 L52.50,50.28 L53.02,50.77 L53.54,51.25 L54.06,51.71 L54.59,52.15 L55.12,52.58 L55.65,53.00 L56.19,53.41 L56.73,53.80 L57.28,54.18 L57.83,54.54 L58.38,54.90 L58.93,55.24 L59.49,55.57 L60.05,55.88 L60.62,56.18 L61.18,56.48 L61.75,56.76 L62.33,57.02 L62.91,57.28 L63.48,57.53 L64.07,57.76 L64.65,57.98 L65.24,58.19 L65.83,58.40 L66.42,58.59 L67.02,58.77 L67.62,58.94 L68.22,59.10 L68.83,59.25 L69.43,59.39 L70.04,59.52 L70.65,59.64 L71.27,59.75 L71.88,59.85 L72.50,59.94 L73.12,60.03 L73.74,60.11 L74.37,60.17 L74.99,60.23 L75.62,60.28 L76.25,60.32 L76.89,60.36 L77.52,60.38 L78.16,60.40 L78.80,60.41 L79.44,60.42 L80.08,60.42 L80.72,60.41 L81.37,60.39 L82.01,60.37 L82.66,60.34 L83.31,60.30 L83.96,60.26 L84.62,60.21 L85.27,60.15 L85.93,60.09 L86.58,60.02 L87.24,59.95 L87.90,59.88 L88.56,59.79 L89.22,59.71 L89.88,59.61 L90.55,59.52 L91.21,59.42 L91.88,59.31 L92.54,59.20 L93.21,59.09 L93.88,58.97 L94.55,58.85 L95.22,58.72 L95.89,58.59 L96.56,58.46 L97.23,58.33 L97.90,58.19 L98.57,58.05 L99.24,57.90 L99.92,57.76 L100.59,57.61 L101.26,57.46 L101.94,57.31 L102.61,57.15 L103.29,57.00 L103.96,56.84 L104.63,56.68 L105.31,56.52 L105.98,56.36 L106.66,56.19 L107.33,56.03 L108.01,55.87 L108.68,55.70 L109.35,55.54 L110.03,55.37 L110.70,55.21 L111.37,55.04 L112.05,54.87 L112.72,54.71 L113.39,54.54 L114.06,54.38 L114.73,54.21 L115.41,54.05 L116.08,53.88 L116.75,53.72 L117.42,53.55 L118.09,53.39 L118.76,53.22 L119.43,53.06 L120.10,52.89 L120.77,52.73 L121.44,52.56 L122.10,52.40 L122.77,52.24 L123.44,52.07 L124.11,51.91 L124.78,51.75 L125.45,51.59 L126.11,51.42 L126.78,51.26 L127.45,51.10 L128.12,50.94 L128.78,50.78 L129.45,50.62 L130.12,50.46 L130.78,50.31 L131.45,50.15 L132.12,49.99 L132.78,49.83 L133.45,49.68 L134.12,49.52 L134.78,49.37 L135.45,49.21 L136.11,49.06 L136.78,48.91 L137.44,48.75 L138.11,48.60 L138.78,48.45 L139.44,48.30 L140.11,48.15 L140.77,48.01 L141.44,47.86 L142.10,47.71 L142.77,47.57 L143.43,47.42 L144.10,47.28 L144.76,47.14 L145.43,47.00 L146.09,46.86 L146.76,46.72 L147.42,46.58 L148.08,46.44 L148.75,46.30 L149.41,46.17 L150.08,46.03 L150.74,45.90 L151.41,45.77 L152.07,45.64 L152.74,45.51 L153.40,45.38 L154.07,45.26 L154.73,45.13 L155.40,45.01 L156.06,44.88 L156.73,44.76 L157.39,44.64 L158.06,44.52 L158.72,44.41 L159.39,44.29 L160.06,44.18 L160.72,44.06 L161.39,43.95 L162.05,43.84 L162.72,43.73 L163.38,43.63 L164.05,43.52 L164.72,43.42 L165.38,43.32 L166.05,43.22 L166.72,43.12 L167.38,43.02 L168.05,42.93 L168.72,42.83 L169.38,42.74 L170.05,42.65 L170.72,42.56 L171.39,42.47 L172.05,42.39 L172.72,42.31 L173.39,42.23 L174.06,42.15 L174.73,42.07 L175.40,42.00 L176.07,41.92 L176.74,41.85 L177.41,41.78 L178.07,41.71 L178.74,41.65 L179.42,41.59 L180.09,41.53 L180.76,41.47 L181.43,41.41 L182.10,41.35 L182.77,41.30 L183.44,41.25 L184.11,41.20 L184.78,41.16 L185.46,41.11 L186.13,41.07 L186.80,41.03 L187.47,40.99 L188.15,40.95 L188.82,40.92 L189.49,40.89 L190.17,40.85 L190.84,40.83 L191.51,40.80 L192.19,40.77 L192.86,40.75 L193.54,40.73 L194.21,40.71 L194.89,40.69 L195.56,40.68 L196.24,40.67 L196.91,40.66 L197.58,40.65 L198.26,40.64 L198.94,40.63 L199.61,40.63 L200.29,40.63 L200.96,40.63 L201.64,40.63 L202.31,40.64 L202.99,40.64 L203.66,40.65 L204.34,40.66 L205.02,40.67 L205.69,40.68 L206.37,40.70 L207.05,40.72 L207.72,40.74 L208.40,40.76 L209.07,40.78 L209.75,40.80 L210.43,40.83 L211.10,40.86 L211.78,40.89 L212.46,40.92 L213.13,40.95 L213.81,40.99 L214.49,41.02 L215.16,41.06 L215.84,41.10 L216.52,41.15 L217.19,41.19 L217.87,41.24 L218.55,41.28 L219.22,41.33 L219.90,41.38 L220.58,41.44 L221.25,41.49 L221.93,41.55 L222.61,41.61 L223.28,41.67 L223.96,41.73 L224.64,41.79 L225.31,41.85 L225.99,41.92 L226.67,41.99 L227.34,42.06 L228.02,42.13 L228.69,42.20 L229.37,42.28 L230.05,42.35 L230.72,42.43 L231.40,42.51 L232.07,42.59 L232.75,42.68 L233.42,42.76 L234.10,42.85 L234.77,42.93 L235.45,43.02 L236.12,43.11 L236.80,43.21 L237.47,43.30 L238.15,43.40 L238.82,43.49 L239.50,43.59 L240.17,43.69 L240.84,43.80 L241.52,43.90 L242.19,44.00 L242.86,44.11 L243.54,44.22 L244.21,44.33 L244.88,44.44 L245.56,44.55 L246.23,44.67 L246.90,44.78 L247.57,44.90 L248.24,45.02 L248.92,45.14 L249.59,45.26 L250.26,45.38 L250.93,45.51 L251.60,45.63 L252.27,45.76 L252.94,45.89 L253.61,46.02 L254.28,46.15 L254.95,46.29 L255.62,46.42 L256.29,46.56 L256.96,46.70 L257.63,46.83 L258.30,46.97 L258.96,47.12 L259.63,47.26 L260.30,47.40 L260.97,47.55 L261.63,47.70 L262.30,47.85 L262.97,48.00 L263.63,48.15 L264.30,48.30 L264.96,48.46 L265.63,48.61 L266.29,48.77 L266.96,48.93 L267.62,49.09 L268.29,49.25 L268.95,49.41 L269.61,49.57 L270.27,49.74 L270.94,49.90 L271.60,50.07 L272.26,50.24 L272.92,50.41 L273.58,50.58 L274.24,50.75 L274.90,50.93 L275.56,51.10 L276.22,51.28 L276.88,51.46 L277.54,51.63 L278.20,51.81 L278.86,52.00 L279.52,52.18 L280.17,52.36 L280.83,52.55 L281.49,52.73 L282.14,52.92 L282.80,53.11 L283.45,53.30 L284.11,53.49 L284.76,53.68 L285.41,53.88 L286.07,54.07 L286.72,54.27 L287.37,54.46 L288.02,54.66 L288.68,54.86 L289.33,55.06 L289.98,55.26 L290.63,55.46 L291.28,55.67 L291.93,55.87 L292.57,56.08 L293.22,56.28 L293.87,56.49 L294.52,56.70 L295.16,56.91 L295.81,57.12 L296.45,57.34 L297.10,57.55 L297.74,57.76 L298.39,57.98 L299.03,58.20 L299.67,58.41 L300.32,58.63 L300.96,58.85 L301.60,59.07 L302.24,59.29 L302.88,59.52 L303.52,59.74 L304.16,59.97 L304.80,60.19 L305.43,60.42 L306.07,60.65 L306.71,60.87 L307.34,61.10 L307.98,61.34 L308.61,61.57 L309.25,61.80 L309.88,62.03 L310.51,62.27 L311.15,62.50 L311.78,62.74 L312.41,62.98 L313.04,63.22 L313.67,63.46 L314.30,63.70 L314.93,63.94 L315.56,64.18 L316.19,64.42 L316.81,64.67 L317.44,64.91 L318.07,65.16 L318.69,65.40 L319.32,65.65 L319.94,65.90 L320.57,66.15 L321.19,66.40 L321.81,66.65 L322.44,66.90 L323.06,67.15 L323.68,67.40 L324.30,67.65 L324.92,67.91 L325.54,68.16 L326.17,68.42 L326.79,68.68 L327.41,68.93 L328.03,69.19 L328.64,69.45 L329.26,69.71 L329.88,69.97 L330.50,70.23 L331.12,70.49 L331.74,70.76 L332.35,71.02 L332.97,71.28 L333.59,71.55 L334.20,71.81 L334.82,72.08 L335.44,72.34 L336.05,72.61 L336.67,72.88 L337.28,73.14 L337.90,73.41 L338.51,73.68 L339.13,73.95 L339.74,74.22 L340.36,74.49 L340.97,74.76 L341.59,75.04 L342.20,75.31 L342.81,75.58 L343.43,75.86 L344.04,76.13 L344.66,76.40 L345.27,76.68 L345.88,76.95 L346.50,77.23 L347.11,77.51 L347.72,77.78 L348.34,78.06 L348.95,78.34 L349.57,78.62 L350.18,78.90 L350.79,79.18 L351.41,79.46 L352.02,79.74 L352.63,80.02 L353.25,80.30 L353.86,80.58 L354.48,80.86 L355.09,81.14 L355.70,81.42 L356.32,81.71 L356.93,81.99 L357.55,82.27 L358.16,82.56 L358.78,82.84 L359.39,83.12 L360.01,83.41 L360.62,83.69 L361.24,83.98 L361.85,84.26 L362.47,84.55 L363.08,84.84 L363.70,85.12 L364.32,85.41 L364.93,85.70 L365.55,85.98 L366.17,86.27 L366.79,86.56 L367.40,86.85 L368.02,87.13 L368.64,87.42 L369.26,87.71 L369.88,88.00 L370.50,88.29 L371.12,88.57 L371.74,88.86 L372.36,89.15 L372.98,89.44 L373.60,89.73 L374.22,90.02 L374.84,90.31 L375.47,90.60 L376.09,90.89 L376.71,91.18 L377.33,91.47 L377.96,91.76 L378.58,92.05 L379.21,92.34 L379.83,92.62 L380.46,92.91 L381.09,93.20 L381.71,93.49 L382.34,93.78 L382.97,94.06 L383.59,94.35 L384.22,94.63 L384.85,94.92 L385.48,95.20 L386.11,95.49 L386.74,95.77 L387.37,96.05 L388.00,96.33 L388.63,96.61 L389.27,96.89 L389.90,97.16 L390.53,97.44 L391.16,97.71 L391.80,97.99 L392.43,98.26 L393.07,98.53 L393.70,98.80 L394.34,99.07 L394.97,99.33 L395.61,99.60 L396.24,99.86 L396.88,100.12 L397.52,100.38 L398.16,100.64 L398.80,100.89 L399.43,101.14 L400.07,101.40 L400.71,101.65 L401.35,101.89 L401.99,102.14 L402.63,102.38 L403.28,102.62 L403.92,102.86 L404.56,103.09 L405.20,103.33 L405.85,103.56 L406.49,103.79 L407.14,104.01 L407.78,104.23 L408.43,104.46 L409.07,104.67 L409.72,104.89 L410.36,105.10 L411.01,105.31 L411.66,105.51 L412.31,105.72 L412.95,105.92 L413.60,106.11 L414.25,106.30 L414.90,106.49 L415.55,106.68 L416.20,106.86 L416.85,107.04 L417.51,107.22 L418.16,107.39 L418.81,107.56 L419.46,107.73 L420.12,107.89 L420.77,108.05 L421.43,108.20 L422.08,108.35 L422.74,108.50 L423.39,108.64 L424.05,108.78 L424.71,108.91 L425.36,109.04 L426.02,109.17 L426.68,109.29 L427.34,109.41 L428.00,109.52 L428.66,109.63 L429.32,109.73 L429.98,109.83 L430.64,109.93 L431.30,110.02 L431.96,110.10 L432.63,110.19 L433.29,110.26 L433.95,110.33 L434.62,110.40 L435.28,110.46 L435.95,110.52 L436.61,110.57 L437.28,110.61 L437.95,110.66 L438.61,110.69 L439.28,110.72 L439.95,110.75 L440.61,110.77 L441.28,110.79 L441.95,110.80 L442.62,110.80 L443.28,110.80 L443.95,110.80 L444.62,110.79 L445.29,110.77 L445.96,110.75 L446.62,110.73 L447.29,110.70 L447.96,110.66 L448.62,110.62 L449.29,110.58 L449.96,110.53 L450.62,110.47 L451.29,110.41 L451.95,110.34 L452.61,110.27 L453.28,110.19 L453.94,110.11 L454.60,110.02 L455.26,109.93 L455.93,109.83 L456.59,109.73 L457.24,109.62 L457.90,109.51 L458.56,109.39 L459.22,109.26 L459.87,109.14 L460.53,109.00 L461.18,108.86 L461.83,108.71 L462.48,108.56 L463.13,108.41 L463.78,108.24 L464.43,108.08 L465.07,107.90 L465.72,107.73 L466.36,107.54 L467.00,107.35 L467.64,107.16 L468.28,106.96 L468.92,106.75 L469.55,106.54 L470.19,106.33 L470.82,106.11 L471.45,105.88 L472.08,105.65 L472.71,105.41 L473.33,105.17 L473.95,104.92 L474.58,104.67 L475.20,104.41 L475.82,104.15 L476.43,103.88 L477.05,103.60 L477.66,103.33 L478.27,103.04 L478.88,102.76 L479.49,102.46 L480.09,102.17 L480.70,101.87 L481.30,101.56 L481.90,101.25 L482.50,100.93 L483.09,100.61 L483.69,100.29 L484.28,99.96 L484.87,99.63 L485.46,99.29 L486.04,98.95 L486.63,98.61 L487.21,98.26 L487.79,97.90 L488.37,97.54 L488.94,97.18 L489.52,96.82 L490.09,96.45 L490.66,96.07 L491.23,95.70 L491.79,95.31 L492.35,94.93 L492.91,94.54 L493.47,94.15 L494.03,93.75 L494.58,93.35 L495.14,92.95 L495.69,92.54 L496.23,92.13 L496.78,91.72 L497.32,91.30 L497.86,90.88 L498.40,90.46 L498.94,90.04 L499.47,89.61 L500.00,89.17 L500.53,88.74 L501.06,88.30 L501.58,87.86 L502.11,87.41 L502.63,86.97 L503.14,86.52 L503.66,86.06 L504.17,85.61 L504.68,85.15 L505.19,84.69 L505.70,84.23 L506.20,83.76 L506.70,83.29 L507.20,82.82 L507.70,82.35 L508.20,81.87 L508.69,81.39 L509.18,80.91 L509.67,80.43 L510.16,79.94 L510.64,79.46 L511.12,78.97 L511.60,78.48 L512.08,77.98 L512.56,77.49 L513.04,76.99 L513.51,76.49 L513.98,75.99 L514.45,75.49 L514.92,74.98 L515.38,74.48 L515.84,73.97 L516.31,73.46 L516.77,72.95 L517.22,72.43 L517.68,71.92 L518.13,71.40 L518.59,70.88 L519.04,70.37 L519.49,69.85 L519.93,69.32 L520.38,68.80 L520.82,68.28 L521.26,67.75 L521.70,67.22 L522.14,66.70 L522.58,66.17 L523.01,65.64 L523.45,65.11 L523.88,64.58 L524.31,64.04 L524.74,63.51 L525.17,62.98 L525.59,62.44 L526.02,61.91 L526.44,61.37 L526.86,60.83 L527.28,60.30 L527.70,59.76 L528.12,59.22 L528.53,58.68 L528.95,58.14 L529.36,57.60 L529.77,57.06 L530.18,56.52 L530.59,55.98 L530.99,55.44 L531.40,54.90 L531.81,54.36 L532.21,53.82 L532.61,53.28 L533.01,52.74 L533.41,52.20 L533.81,51.66 L534.21,51.12 L534.60,50.58 L535.00,50.04 L535.39,49.50 L535.78,48.96 L536.17,48.42 L536.56,47.88 L536.95,47.34 L537.34,46.80 L537.72,46.27 L538.11,45.73 L538.49,45.19 L538.88,44.66 L539.26,44.12 L539.64,43.59 L540.02,43.06 L540.40,42.52" stroke="#D95319" stroke-dasharray="3.3 3.75" stroke-dashoffset="1.6" stroke-width="3.4"/>
</g>
<g font-size="14" text-anchor="middle">
<text x="46.20" y="382.1">2</text>
<text x="128.27" y="382.1">3</text>
<text x="210.80" y="382.1">4</text>
<text x="293.33" y="382.1">5</text>
<text x="375.86" y="382.1">6</text>
<text x="458.39" y="382.1">7</text>
<text x="540.40" y="382.1">8</text>
</g>
<g font-size="14" text-anchor="end">
<text x="40.6" y="369.80">-32</text>
<text x="40.6" y="331.01">-31</text>
<text x="40.6" y="291.73">-30</text>
<text x="40.6" y="252.45">-29</text>
<text x="40.6" y="213.17">-28</text>
<text x="40.6" y="173.89">-27</text>
<text x="40.6" y="134.61">-26</text>
<text x="40.6" y="95.33">-25</text>
<text x="40.6" y="56.05">-24</text>
<text x="40.6" y="17.20">-23</text>
</g>
<text x="293" y="400.7" font-size="15.3" text-anchor="middle">Frequency [GHz]</text>
<text transform="translate(14.6,187) rotate(-90)" font-size="15.4" text-anchor="middle" xml:space="preserve" style="white-space:pre">Reflection  Coefficient [dB]</text>
<rect x="402.2" y="13.3" width="91.3" height="63.1" fill="#fff" stroke="#6a6a6a" stroke-width="1"/>
<g stroke-width="3.3">
<line x1="406" y1="22.8" x2="440.6" y2="22.8" stroke="#0072BD"/>
<path d="M406,37.5H420.1M424,37.5H430.8M434.2,37.5H440.9" stroke="#A2142F"/>
<path d="M406,53.1H420.1M434.2,53.1H440.9" stroke="#FF0000" stroke-width="3.6"/>
<path d="M406,67.8H409.4M413.3,67.8H416.7M420,67.8H423.4M426.8,67.8H430.2M433.6,67.8H437" stroke="#D95319" stroke-width="3.5"/>
</g>
<g font-size="12.2">
<text x="444" y="27.4">Design-1</text>
<text x="444" y="42.7">DE</text>
<text x="444" y="57.3">CFO</text>
<text x="444" y="72.2">LSA</text>
</g>
</svg>
</body></html>
